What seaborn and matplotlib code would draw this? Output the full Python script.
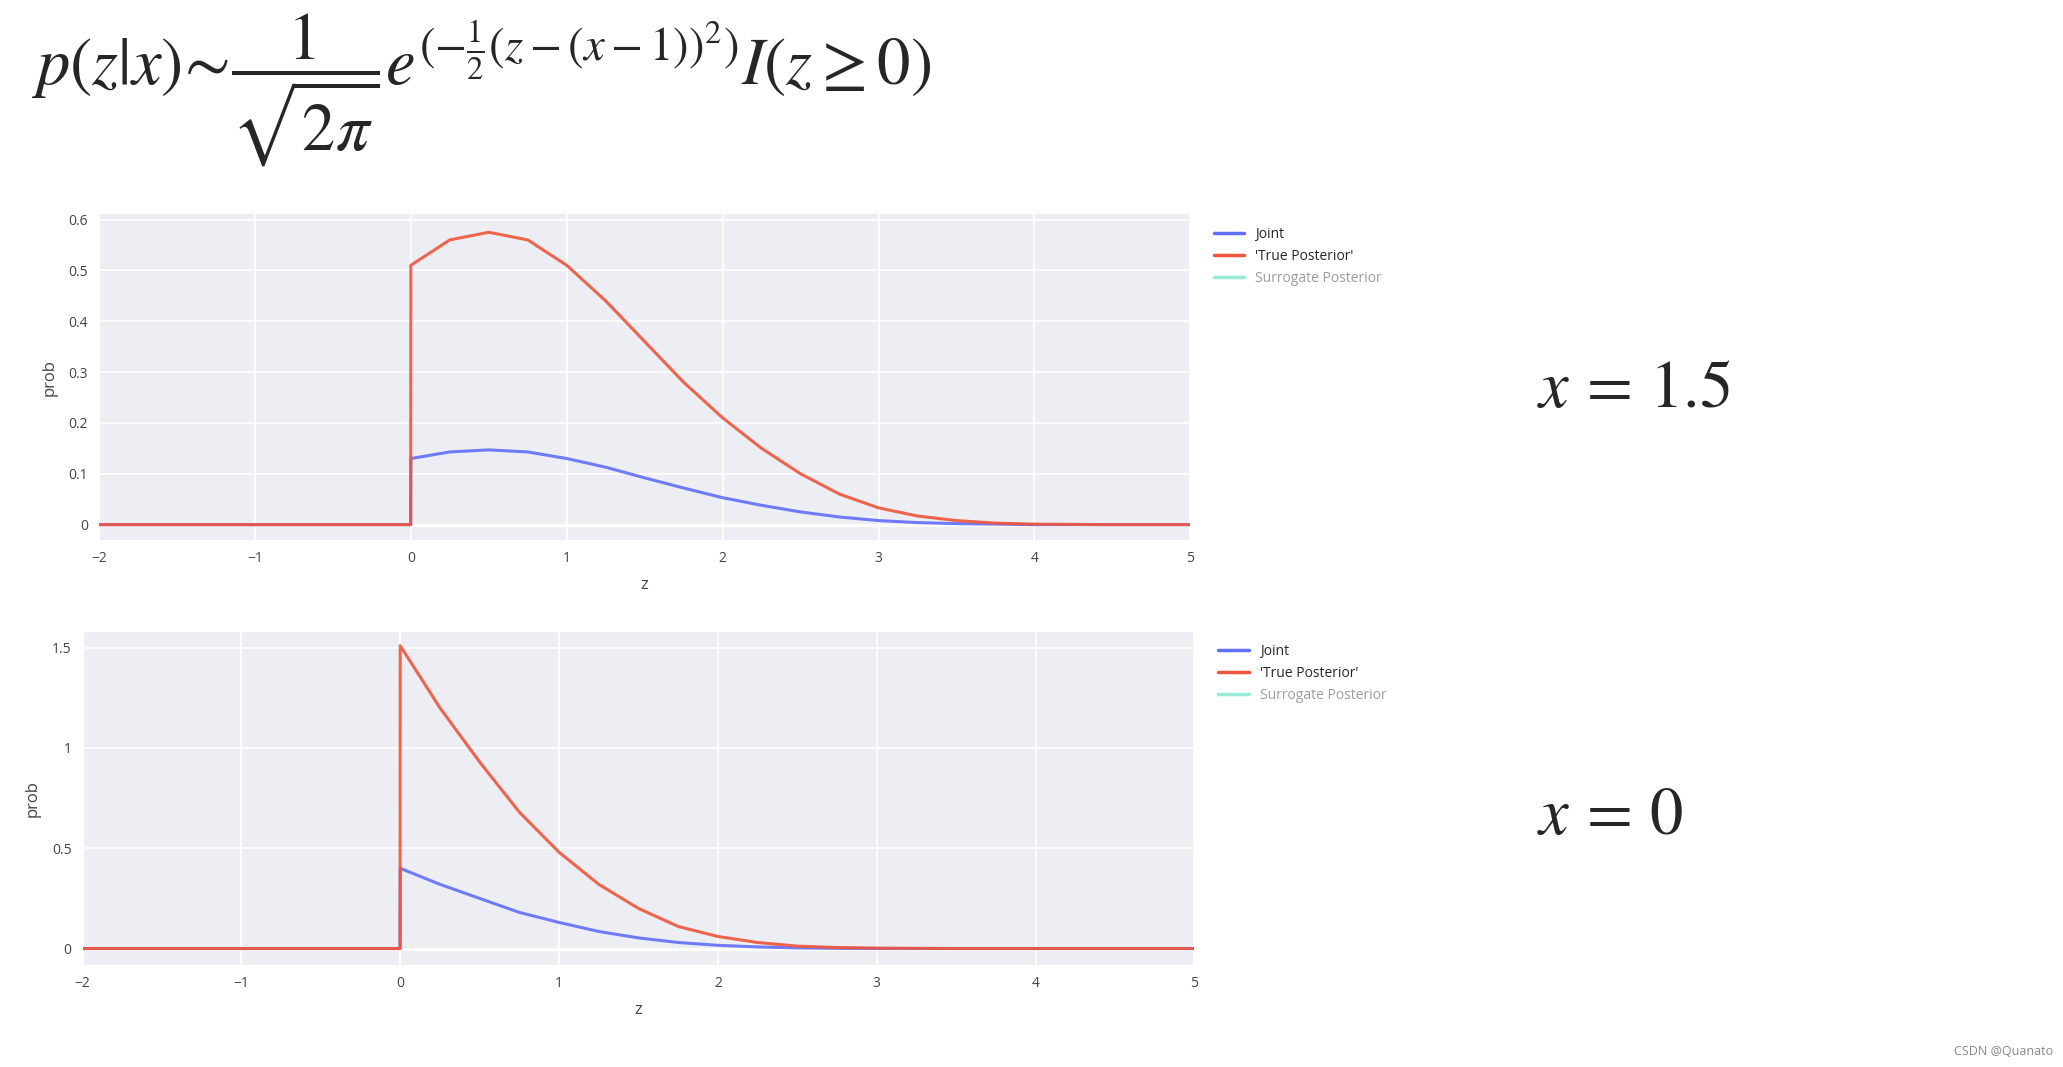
import numpy as np
import pandas as pd
import matplotlib.pyplot as plt
from matplotlib.lines import Line2D
import seaborn as sns

# values
z_grid = [-2, -0.001, 0, 0.25, 0.5, 0.75, 1.0, 1.25, 1.5, 1.75, 2.0, 2.25, 2.5,
          2.75, 3.0, 3.25, 3.5, 3.75, 4.0, 4.5, 5.0]
post_x15 = [0, 0, 0.51, 0.56, 0.575, 0.56, 0.51, 0.44, 0.36, 0.28, 0.21, 0.15, 0.10,
            0.06, 0.033, 0.017, 0.008, 0.003, 0.001, 0.0, 0.0]
joint_x15 = [0, 0, 0.13, 0.143, 0.147, 0.143, 0.13, 0.113, 0.092, 0.072, 0.053, 0.038,
             0.025, 0.015, 0.008, 0.004, 0.002, 0.001, 0.0, 0.0, 0.0]
post_x0 = [0, 0, 1.51, 1.2, 0.93, 0.68, 0.48, 0.32, 0.2, 0.11, 0.06, 0.03, 0.012,
           0.005, 0.002, 0.001, 0.0, 0.0, 0.0, 0.0, 0.0]
joint_x0 = [0, 0, 0.4, 0.32, 0.25, 0.18, 0.13, 0.085, 0.053, 0.03, 0.016, 0.008,
            0.003, 0.001, 0.0, 0.0, 0.0, 0.0, 0.0, 0.0, 0.0]

BLUE, RED, GREEN = '#636EFA', '#EF553B', '#00CC96'
BG = '#ECEEF3'

sns.set_style('white')
plt.rcParams['font.family'] = ['Open Sans', 'DejaVu Sans']
plt.rcParams['mathtext.fontset'] = 'stix'

fig = plt.figure(figsize=(20.63, 10.67), dpi=100)
fig.patch.set_facecolor('white')

fig.text(0.015, 0.915, r'$p(z|x)\!\sim\!\dfrac{1}{\sqrt{2\pi}}e^{(-\frac{1}{2}(z-(x-1))^2)}I(z\geq0)$',
         fontsize=48, va='center', ha='left')

panels = [
    ([0.048, 0.494, 0.529, 0.305], joint_x15, post_x15, [0, 0.1, 0.2, 0.3, 0.4, 0.5, 0.6],
     ['0', '0.1', '0.2', '0.3', '0.4', '0.5', '0.6'], (-0.03, 0.61), r'$x\,=\,1.5$', 0.635),
    ([0.040, 0.096, 0.539, 0.312], joint_x0, post_x0, [0, 0.5, 1, 1.5],
     ['0', '0.5', '1', '1.5'], (-0.08, 1.58), r'$x\,=\,0$', 0.235),
]

for rect, joint, post, yt, ytl, ylim, lab, ly in panels:
    ax = fig.add_axes(rect)
    ax.set_facecolor(BG)
    df = pd.DataFrame({'z': z_grid * 2, 'prob': joint + post,
                       'series': ['Joint'] * len(z_grid) + ["'True Posterior'"] * len(z_grid)})
    sns.lineplot(data=df, x='z', y='prob', hue='series', palette=[BLUE, RED],
                 linewidth=2.2, ax=ax, legend=False, sort=False, alpha=0.9)
    ax.set_xlim(-2, 5)
    ax.set_ylim(*ylim)
    ax.set_xticks(range(-2, 6))
    ax.set_xticklabels(['\u22122', '\u22121', '0', '1', '2', '3', '4', '5'])
    ax.set_yticks(yt)
    ax.set_yticklabels(ytl)
    ax.grid(True, color='white', linewidth=1.2)
    ax.axhline(0, color='white', linewidth=2, zorder=0.5)
    for s in ax.spines.values():
        s.set_visible(False)
    ax.tick_params(length=0, labelsize=10, colors='#444444', pad=8)
    ax.set_xlabel('z', fontsize=12, color='#444444', labelpad=8)
    ax.set_ylabel('prob', fontsize=12, color='#444444', labelpad=8)
    handles = [Line2D([], [], color=BLUE, lw=2.5),
               Line2D([], [], color=RED, lw=2.5),
               Line2D([], [], color=GREEN, lw=2.5, alpha=0.4)]
    leg = ax.legend(handles, ['Joint', "'True Posterior'", 'Surrogate Posterior'],
                    loc='upper left', bbox_to_anchor=(1.01, 1.0), frameon=False,
                    fontsize=10, handlelength=2.2)
    leg.get_texts()[2].set_alpha(0.45)
    fig.text(0.745, ly, lab, fontsize=48, va='center', ha='left')

fig.text(0.995, 0.008, 'CSDN @Quanato', fontsize=9, color='#888888', ha='right', va='bottom')

fig.savefig('out.png', dpi=100)
